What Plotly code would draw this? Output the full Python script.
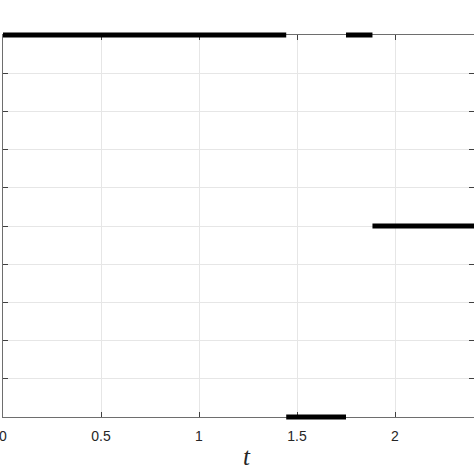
"""Piecewise constant signal over time t"""

import plotly.graph_objects as go

# segment data
seg_start = [0.0, 1.445, 1.75, 1.885]
seg_end = [1.445, 1.75, 1.885, 2.5]
seg_value = [1.0, 0.0, 1.0, 0.5]

x_ticks = [0, 0.5, 1, 1.5, 2, 2.5]
x_tick_labels = ["0", "0.5", "1", "1.5", "2", "2.5"]
y_ticks = [0, 0.1, 0.2, 0.3, 0.4, 0.5, 0.6, 0.7, 0.8, 0.9, 1.0]

# join segments into one trace, with gaps between them
xs, ys = [], []
for a, b, v in zip(seg_start, seg_end, seg_value):
    xs += [a, b, None]
    ys += [v, v, None]

W = H = 474
# axes box in pixels (the picture is cropped left and right)
box_top, box_bottom = 35, 417
pad = 12  # extra room so the thick lines on the box edges are not clipped
m_t, m_b = box_top - pad, H - box_bottom - pad
area_h = H - m_t - m_b
y_lo = pad / area_h
y_hi = 1 - pad / area_h
extra = pad / (box_bottom - box_top)
x_range = [0, (W - 3) / 196]

fig = go.Figure()
# empty trace so the framed x/y axes get drawn
fig.add_trace(go.Scatter(x=[], y=[], showlegend=False, hoverinfo="skip"))
# the signal sits on a slightly taller hidden subplot so edge lines are not clipped
fig.add_trace(
    go.Scatter(
        x=xs,
        y=ys,
        mode="lines",
        line=dict(color="black", width=5),
        xaxis="x2",
        yaxis="y2",
        showlegend=False,
        hoverinfo="skip",
    )
)

axis_col = "#6e6e6e"
grid_col = "#e6e6e6"

fig.update_layout(
    width=W,
    height=H,
    margin=dict(l=3, r=0, t=m_t, b=m_b),
    plot_bgcolor="rgba(0,0,0,0)",
    paper_bgcolor="white",
    font=dict(family="Liberation Sans, Arial", size=14, color="#262626"),
    xaxis=dict(
        range=x_range,
        tickvals=x_ticks,
        ticktext=x_tick_labels,
        ticks="inside",
        ticklen=5,
        tickcolor="#404040",
        ticklabeloverflow="allow",
        ticklabelstandoff=6,
        showline=True,
        linecolor=axis_col,
        linewidth=1,
        mirror="ticks",
        showgrid=True,
        gridcolor=grid_col,
        zeroline=False,
        anchor="y",
        automargin=False,
    ),
    yaxis=dict(
        domain=[y_lo, y_hi],
        range=[0, 1],
        tickvals=y_ticks,
        showticklabels=False,
        ticks="inside",
        ticklen=5,
        tickcolor="#404040",
        showline=True,
        linecolor=axis_col,
        linewidth=1,
        mirror="ticks",
        showgrid=True,
        gridcolor=grid_col,
        zeroline=False,
        automargin=False,
        anchor="x",
    ),
    xaxis2=dict(range=x_range, visible=False, anchor="y2"),
    yaxis2=dict(domain=[0, 1], range=[-extra, 1 + extra], visible=False, anchor="x2"),
    annotations=[
        dict(
            text="<i>t</i>",
            xref="paper",
            yref="paper",
            x=(247 - 3) / (W - 3),
            y=-(457 - (H - m_b)) / area_h,
            xanchor="center",
            yanchor="middle",
            showarrow=False,
            font=dict(family="Liberation Serif, DejaVu Serif", size=25, color="#262626"),
        )
    ],
)

fig.write_html(
    "out.html",
    config={"displayModeBar": False},
    post_script="document.body.style.margin = '0';",
)
